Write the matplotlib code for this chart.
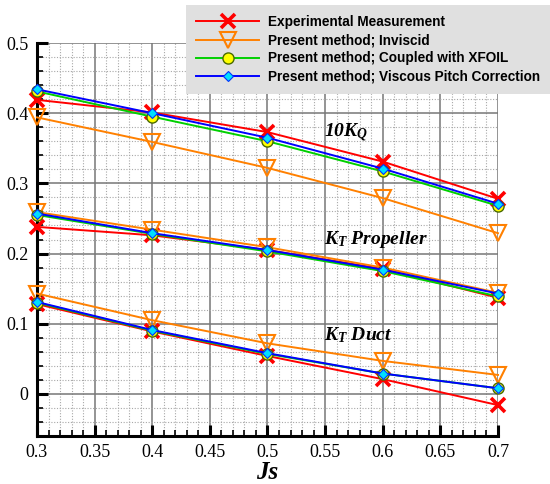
import matplotlib
matplotlib.use("Agg")
import matplotlib.pyplot as plt
from matplotlib.ticker import MultipleLocator, FixedLocator

plt.rcParams['mathtext.fontset'] = 'custom'
plt.rcParams['mathtext.rm'] = 'Liberation Serif'
plt.rcParams['mathtext.it'] = 'Liberation Serif:italic'
plt.rcParams['mathtext.bf'] = 'Liberation Serif:bold'
plt.rcParams['mathtext.bfit'] = 'Liberation Serif:bold:italic'

js = [0.3, 0.4, 0.5, 0.6, 0.7]

# 10 KQ
kq_exp = [0.419, 0.401, 0.373, 0.331, 0.278]
kq_inv = [0.394, 0.359, 0.322, 0.279, 0.229]
kq_xfoil = [0.431, 0.395, 0.360, 0.317, 0.268]
kq_visc = [0.434, 0.400, 0.365, 0.321, 0.271]

# KT propeller
ktp_exp = [0.238, 0.226, 0.205, 0.178, 0.137]
ktp_inv = [0.259, 0.234, 0.209, 0.180, 0.144]
ktp_xfoil = [0.255, 0.228, 0.203, 0.175, 0.139]
ktp_visc = [0.257, 0.229, 0.205, 0.177, 0.143]

# KT duct
ktd_exp = [0.128, 0.089, 0.054, 0.021, -0.016]
ktd_inv = [0.143, 0.105, 0.072, 0.047, 0.027]
ktd_xfoil = [0.130, 0.090, 0.057, 0.029, 0.008]
ktd_visc = [0.131, 0.091, 0.058, 0.029, 0.008]

labels = ["Experimental Measurement",
          "Present method; Inviscid",
          "Present method; Coupled with XFOIL",
          "Present method; Viscous Pitch Correction"]

xticks = [0.3, 0.35, 0.4, 0.45, 0.5, 0.55, 0.6, 0.65, 0.7]
yticks = [0, 0.1, 0.2, 0.3, 0.4, 0.5]

fig = plt.figure(figsize=(5.5, 4.84), dpi=100)
ax = fig.add_axes([37/550, 1-436/484, (498-37)/550, (436-43)/484])

styles = [
    dict(color='#ff0000', marker='x', markersize=10, markeredgewidth=2.6, lw=1.4),
    dict(color='#ff8000', marker='v', markersize=11, markerfacecolor='none', markeredgewidth=1.5, lw=1.4),
    dict(color='#00d000', marker='o', markersize=8, markerfacecolor='#ffff00', markeredgecolor='#4a6a00', markeredgewidth=1.0, lw=1.4),
    dict(color='#0000ff', marker='D', markersize=5, markerfacecolor='#00e0ff', markeredgecolor='#0030ff', markeredgewidth=0.8, lw=1.4),
]

groups = [
    (kq_exp, kq_inv, kq_xfoil, kq_visc),
    (ktp_exp, ktp_inv, ktp_xfoil, ktp_visc),
    (ktd_exp, ktd_inv, ktd_xfoil, ktd_visc),
]

handles = []
for gi, grp in enumerate(groups):
    for si, vals in enumerate(grp):
        h, = ax.plot(js, vals, zorder=3 + si, clip_on=False, **styles[si])
        if gi == 0:
            handles.append(h)

ax.set_xlim(0.3, 0.7)
ax.set_ylim(-0.06, 0.5)
ax.xaxis.set_major_locator(FixedLocator(xticks))
ax.yaxis.set_major_locator(FixedLocator(yticks))
ax.xaxis.set_minor_locator(MultipleLocator(0.01))
ax.yaxis.set_minor_locator(MultipleLocator(0.02))
ax.set_xticklabels([f"{v:g}" for v in xticks])
ax.set_yticklabels([f"{v:g}" for v in yticks])

ax.grid(which='major', color='#777777', lw=1.1, ls='-', zorder=1)
ax.grid(which='minor', color='#a8a8a8', lw=0.8, ls=(0, (1, 1.5)), zorder=0)
ax.set_axisbelow(True)

for s in ['top', 'right']:
    ax.spines[s].set_visible(False)
for s in ['left', 'bottom']:
    ax.spines[s].set_linewidth(2.2)
    ax.spines[s].set_color('black')

ax.tick_params(which='major', direction='in', length=8, width=2.2, color='black',
               labelsize=13, pad=6)
ax.tick_params(which='minor', direction='in', length=4, width=1.2, color='black')
for lab in ax.get_xticklabels() + ax.get_yticklabels():
    lab.set_fontfamily('Liberation Serif')

ax.set_xlabel('Js', fontfamily='Liberation Serif', fontweight='bold', fontstyle='italic',
              fontsize=18, labelpad=0)

tkw = dict(fontfamily='Liberation Serif', fontweight='bold', fontstyle='italic', fontsize=14, zorder=10)
ax.text(0.549, 0.366, r'$\mathbfit{10K_Q}$', **tkw)
ax.text(0.549, 0.213, r'$\mathbfit{K_T}$ Propeller', **tkw)
ax.text(0.549, 0.076, r'$\mathbfit{K_T}$ Duct', **tkw)

leg = fig.legend(handles, labels, loc='upper left', bbox_to_anchor=(186/550, 1-5/484),
                 prop=dict(family='Liberation Sans', weight='bold', size=9.8),
                 frameon=True, fancybox=False, facecolor='#e0e0e0', edgecolor='none',
                 framealpha=1.0, handlelength=4.6, handletextpad=0.7, labelspacing=0.3,
                 borderpad=0.75, borderaxespad=0)

fig.savefig('out.png', dpi=100)
